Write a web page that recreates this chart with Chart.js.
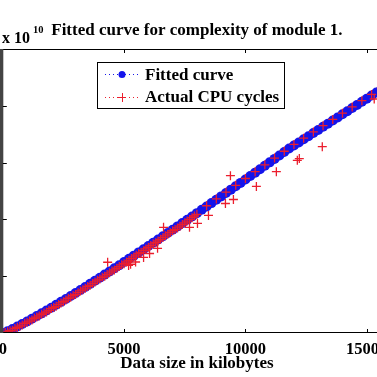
<!DOCTYPE html>
<html>
<head>
<meta charset="utf-8">
<script src="https://cdn.jsdelivr.net/npm/chart.js@4/dist/chart.umd.min.js"></script>
<style>
  html, body { margin: 0; padding: 0; overflow: hidden; background: #fff; width: 377px; height: 377px; }
  canvas { display: block; margin-left: -3px; }
</style>
</head>
<body>
<canvas id="c" width="400" height="377"></canvas>
<script>
// ---- Data (y values in units of 10^10 CPU cycles) ----
const titleText = "Fitted curve for complexity of module 1.";
const xAxisLabel = "Data size in kilobytes";
const legendLabels = ["Fitted curve", "Actual CPU cycles"];
const xTickValues = [0, 5000, 10000, 15000];
const yTickValues = [0, 1, 2, 3, 4, 5];

const fitX = [0,200,400,600,800,1000,1200,1400,1600,1800,2000,2200,2400,2600,2800,3000,3200,3400,3600,3800,
  4000,4200,4400,4600,4800,5000,5200,5400,5600,5800,6000,6200,6400,6600,6800,7000,7200,7400,7600,7800,
  8000,8200,8400,8600,8800,9000,9200,9400,9600,9800,10000,10200,10400,10600,10800,11000,11200,11400,11600,11800,
  12000,12200,12400,12600,12800,13000,13200,13400,13600,13800,14000,14200,14400,14600,14800,15000,15200,15400,15600];
const fitY = [0,0.031,0.070,0.113,0.157,0.203,0.250,0.298,0.346,0.396,0.446,0.497,0.548,0.600,0.652,0.705,0.758,0.811,0.865,0.919,
  0.974,1.028,1.083,1.139,1.194,1.250,1.306,1.362,1.419,1.475,1.532,1.589,1.646,1.704,1.761,1.819,1.877,1.935,1.993,2.052,
  2.110,2.169,2.228,2.287,2.346,2.405,2.464,2.524,2.584,2.643,2.703,2.763,2.823,2.884,2.944,3.004,3.065,3.125,3.186,3.247,
  3.300,3.355,3.410,3.465,3.520,3.575,3.630,3.685,3.740,3.795,3.850,3.905,3.960,4.015,4.070,4.125,4.180,4.235,4.290];

const actX = [0,200,400,600,800,1000,1200,1400,1600,1800,2000,2200,2400,2600,2800,3000,3200,3400,3600,3800,
  4000,4200,4400,4600,4800,5000,5200,5400,5600,5800,6000,6200,6400,6600,6800,7000,7200,7400,7600,7800,8000,
  100,300,500,700,900,1100,1300,1500,1700,1900,2100,2300,2500,2700,2900,3100,3300,3500,3700,3900,
  4100,4300,4500,4700,4900,5100,5300,5500,5700,5900,6100,6300,6500,6700,6900,7100,7300,7500,7700,7900,
  8400,8800,9200,9600,10000,10400,10800,11200,11600,12000,12400,12800,13200,13600,14000,14400,14800,15200,15600,
  4321,5185,5267,5473,5802,6049,6378,6625,7695,8024,8477,9176,9505,9382,10452,11275,12139,12221,13168,15308];
const actY = [0.00,0.02,0.05,0.10,0.14,0.19,0.23,0.28,0.33,0.37,0.43,0.47,0.53,0.58,0.63,0.68,0.74,0.79,0.84,0.90,
  0.95,1.00,1.06,1.11,1.17,1.22,1.28,1.34,1.40,1.45,1.51,1.57,1.62,1.68,1.74,1.80,1.85,1.91,1.97,2.03,2.09,
  0.01,0.04,0.08,0.12,0.17,0.21,0.26,0.30,0.35,0.40,0.45,0.50,0.55,0.61,0.66,0.71,0.76,0.82,0.87,0.93,
  0.98,1.03,1.09,1.14,1.20,1.25,1.31,1.37,1.42,1.48,1.54,1.59,1.65,1.71,1.77,1.82,1.88,1.94,2.00,2.06,
  2.24,2.36,2.48,2.60,2.72,2.84,2.96,3.08,3.20,3.32,3.43,3.54,3.65,3.76,3.87,3.98,4.09,4.20,4.31,
  1.246,1.19,1.21,1.25,1.33,1.40,1.49,1.86,1.86,1.93,2.07,2.28,2.35,2.77,2.58,2.84,3.04,3.07,3.28,4.12];

const BLUE = 'rgb(20,20,235)';
const RED = 'rgb(235,30,45)';
const SERIF = '"Liberation Serif", "Times New Roman", serif';
const SHIFT = 3; // canvas is shifted left by this many pixels on the page

const decor = {
  id: 'decor',
  afterDraw(chart) {
    const ctx = chart.ctx;
    const a = chart.chartArea;
    const xs = chart.scales.x, ys = chart.scales.y;
    ctx.save();
    // frame
    ctx.strokeStyle = '#000';
    ctx.lineWidth = 1;
    ctx.beginPath();
    ctx.moveTo(a.left, a.top + 0.5); ctx.lineTo(chart.width, a.top + 0.5);
    ctx.moveTo(a.left, a.bottom - 0.5); ctx.lineTo(chart.width, a.bottom - 0.5);
    ctx.stroke();
    ctx.fillStyle = '#444';
    ctx.fillRect(0, a.top, a.left + 0.5, a.bottom - a.top);
    // inward ticks
    ctx.beginPath();
    xs.ticks.forEach(t => {
      if (t.value === 0) return;
      const px = Math.round(xs.getPixelForValue(t.value)) + 0.5;
      ctx.moveTo(px, a.bottom); ctx.lineTo(px, a.bottom - 4);
      ctx.moveTo(px, a.top); ctx.lineTo(px, a.top + 4);
    });
    ys.ticks.forEach(t => {
      if (t.value === 0 || t.value === 5) return;
      const py = Math.round(ys.getPixelForValue(t.value)) + 0.5;
      ctx.moveTo(a.left, py); ctx.lineTo(a.left + 4, py);
    });
    ctx.stroke();
    // exponent label
    ctx.fillStyle = '#000';
    ctx.textBaseline = 'alphabetic';
    ctx.textAlign = 'left';
    ctx.font = 'bold 16px ' + SERIF;
    ctx.fillText('x 10', 2 + SHIFT, 43);
    ctx.font = 'bold 10.5px ' + SERIF;
    ctx.fillText('10', 33 + SHIFT, 33);
    // legend
    const bx = 97 + SHIFT, by = 62, bw = 187, bh = 46;
    ctx.fillStyle = '#fff';
    ctx.fillRect(bx, by, bw, bh);
    ctx.strokeStyle = '#000';
    ctx.strokeRect(bx + 0.5, by + 0.5, bw, bh);
    const rows = [74, 97];
    const lx = bx + 8;
    ctx.setLineDash([1, 3]);
    ctx.strokeStyle = BLUE;
    ctx.beginPath(); ctx.moveTo(lx, rows[0] + 0.5); ctx.lineTo(lx + 33, rows[0] + 0.5); ctx.stroke();
    ctx.strokeStyle = RED;
    ctx.beginPath(); ctx.moveTo(lx, rows[1] + 0.5); ctx.lineTo(lx + 33, rows[1] + 0.5); ctx.stroke();
    ctx.setLineDash([]);
    ctx.fillStyle = BLUE;
    ctx.beginPath(); ctx.arc(lx + 17, rows[0] + 0.5, 3.5, 0, Math.PI * 2); ctx.fill();
    ctx.strokeStyle = RED;
    ctx.beginPath();
    ctx.moveTo(lx + 13, rows[1] + 0.5); ctx.lineTo(lx + 21, rows[1] + 0.5);
    ctx.moveTo(lx + 17.5, rows[1] - 4); ctx.lineTo(lx + 17.5, rows[1] + 5);
    ctx.stroke();
    ctx.fillStyle = '#000';
    ctx.font = 'bold 17px ' + SERIF;
    ctx.fillText(legendLabels[0], bx + 48, 80);
    ctx.fillText(legendLabels[1], bx + 48, 101.5);
    ctx.restore();
  }
};

new Chart(document.getElementById('c'), {
  type: 'scatter',
  data: {
    datasets: [
      {
        label: legendLabels[0],
        data: fitX.map((x, i) => ({ x: x, y: fitY[i] })),
        showLine: true,
        borderColor: BLUE,
        borderWidth: 1,
        borderDash: [1, 3],
        backgroundColor: BLUE,
        pointBackgroundColor: BLUE,
        pointBorderColor: BLUE,
        pointBorderWidth: 0,
        pointRadius: 5,
        pointStyle: 'circle',
        order: 2,
        clip: 0
      },
      {
        label: legendLabels[1],
        data: actX.map((x, i) => ({ x: x, y: actY[i] })),
        showLine: false,
        borderColor: RED,
        backgroundColor: RED,
        pointBorderColor: RED,
        pointBorderWidth: 1.3,
        pointRadius: 4.5,
        pointStyle: 'cross',
        order: 1,
        clip: 0
      }
    ]
  },
  options: {
    responsive: false,
    devicePixelRatio: 1,
    animation: false,
    layout: { padding: { left: 2, right: 6, top: 0, bottom: 0 } },
    plugins: {
      legend: { display: false },
      tooltip: { enabled: false },
      title: {
        display: true,
        fullSize: false,
        text: titleText,
        color: '#000',
        font: { family: SERIF, size: 17, weight: 'bold' },
        padding: { top: 20, bottom: 8.6 }
      }
    },
    scales: {
      x: {
        type: 'linear',
        min: 0,
        max: 16000,
        grid: { display: false, drawTicks: false, tickLength: 0 },
        border: { display: false },
        afterBuildTicks: s => { s.ticks = xTickValues.map(v => ({ value: v })); },
        afterFit: s => { s.height = 44; s.paddingLeft = 0; s.paddingRight = 0; },
        ticks: {
          color: '#000',
          font: { family: SERIF, size: 16.5, weight: 'bold' },
          padding: 7,
          maxRotation: 0,
          autoSkip: false,
          includeBounds: false,
          callback: v => String(v)
        },
        title: {
          display: true,
          text: xAxisLabel,
          color: '#000',
          font: { family: SERIF, size: 17, weight: 'bold' },
          padding: { top: 0, bottom: 3 }
        }
      },
      y: {
        type: 'linear',
        display: false,
        min: 0,
        max: 5,
        afterBuildTicks: s => { s.ticks = yTickValues.map(v => ({ value: v })); }
      }
    }
  },
  plugins: [decor]
});
</script>
</body>
</html>
